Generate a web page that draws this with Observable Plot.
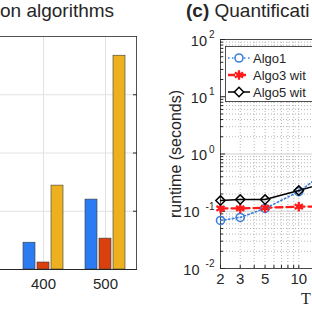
<!DOCTYPE html>
<html><head><meta charset="utf-8">
<script src="https://cdn.jsdelivr.net/npm/d3@7"></script>
<script src="https://cdn.jsdelivr.net/npm/@observablehq/plot@0.6"></script>
<style>
html,body{margin:0;padding:0;background:#fff;}
#wrap{position:relative;width:312px;height:312px;overflow:hidden;background:#fff;font-family:"Liberation Sans",Arial,sans-serif;}
#wrap > svg, #wrap > figure {position:absolute;margin:0;}
</style></head><body><div id="wrap"></div>
<script>
// ---- Left panel (bar chart, cropped) ----
const barCategories = ["400", "500"];
const barSeries = ["Algo1", "Algo3", "Algo5"];
const barAlgo1 = [0.46, 1.20];
const barAlgo3 = [0.12, 0.53];
const barAlgo5 = [1.44, 3.67];
const barGridTicks = [1, 2, 3];
const barTitle = "on algorithms";

// ---- Right panel (log-log runtime) ----
const nValues = [2, 3, 5, 10, 20];
const algo1Runtime = [0.069, 0.078, 0.112, 0.22, 0.6];
const algo3Runtime = [0.112, 0.112, 0.115, 0.12, 0.12];
const algo5Runtime = [0.154, 0.16, 0.16, 0.23, 0.34];
const xTickValues = [2, 3, 5, 10];
const yTickValues = [0.01, 0.1, 1, 10, 100];
const legendLabels = ["Algo1", "Algo3 wit", "Algo5 wit"];
const rightTitleBold = "(c)";
const rightTitle = " Quantificati";
const yLabel = "runtime (seconds)";
const xLabel = "T";

const FONT = "Liberation Sans, Arial, sans-serif";
const INK = "#262626";
const wrap = document.getElementById("wrap");

// ---------- left chart ----------
const barColors = ["#2b7cf2", "#d9400e", "#edb120"];
const barVals = [barAlgo1, barAlgo3, barAlgo5];
const barOffsets = [-14, 0, 14];
const left = Plot.plot({
  width: 146, height: 312,
  marginLeft: 0, marginRight: 10, marginTop: 36, marginBottom: 43,
  style: {fontFamily: FONT, fontSize: "15px", color: INK, background: "transparent", overflow: "visible"},
  x: {type: "band", domain: barCategories, range: [12, 136], padding: 0, axis: null},
  y: {domain: [0, 4], axis: null},
  marks: [
    Plot.gridY(barGridTicks, {stroke: "#e2e2e2", strokeOpacity: 1}),
    Plot.gridX(barCategories, {stroke: "#e2e2e2", strokeOpacity: 1}),
    ...barSeries.map((s, i) => Plot.barY(
      barCategories.map((c, j) => ({cat: c, val: barVals[i][j], series: s})),
      {x: "cat", y: "val", fill: barColors[i], stroke: "#3a3a3a", strokeWidth: 0.6,
       insetLeft: 25, insetRight: 25, dx: barOffsets[i]})),
    Plot.axisX({tickSize: 0, tickPadding: 9, fontSize: 15, fill: INK, label: null}),
    Plot.axisY(barGridTicks, {anchor: "right", tickSize: -4, tickFormat: () => "", stroke: INK, label: null}),
    Plot.frame({anchor: "top", stroke: INK, strokeWidth: 0.8}),
    Plot.frame({anchor: "right", stroke: INK, strokeWidth: 0.8}),
    Plot.frame({anchor: "bottom", stroke: INK, strokeWidth: 1})
  ]
});
left.style.left = "0px"; left.style.top = "0px";
wrap.appendChild(left);

// ---------- right chart ----------
const minorX = [];
for (let k = 2; k <= 10; k++) minorX.push(k);
minorX.push(20);
const minorY = [];
for (const d of [0.01, 0.1, 1, 10]) for (let k = 2; k <= 9; k++) minorY.push(d * k);

const series = [
  {vals: algo1Runtime, stroke: "#3a80dc", dash: "1.5,2.5", symbol: "circle", r: 4, fill: "none", sw: 1.6},
  {vals: algo3Runtime, stroke: "#ff1a1a", dash: "7,4", symbol: "asterisk", r: 4.5, fill: "none", sw: 2.3},
  {vals: algo5Runtime, stroke: "#000000", dash: null, symbol: "diamond2", r: 4.2, fill: "none", sw: 1.5}
];

const right = Plot.plot({
  width: 192, height: 312,
  marginLeft: 70, marginRight: 10, marginTop: 39, marginBottom: 44,
  style: {fontFamily: FONT, fontSize: "15px", color: INK, background: "transparent", overflow: "visible"},
  x: {type: "log", domain: [2, 20], axis: null},
  y: {type: "log", domain: [0.01, 100], axis: null},
  marks: [
    Plot.gridX(minorX, {stroke: "#b8b8b8", strokeOpacity: 1, strokeDasharray: "1,2"}),
    Plot.gridY(minorY, {stroke: "#b8b8b8", strokeOpacity: 1, strokeDasharray: "1,2"}),
    Plot.gridY(yTickValues, {stroke: "#cfcfcf", strokeOpacity: 1}),
    Plot.frame({stroke: INK, strokeWidth: 0.8}),
    Plot.axisX(minorX, {tickSize: -3, tickFormat: () => "", stroke: INK, label: null}),
    Plot.axisY(minorY, {tickSize: -3, tickFormat: () => "", stroke: INK, label: null}),
    Plot.axisY(yTickValues, {tickSize: -5, tickFormat: () => "", stroke: INK, label: null}),
    // x tick labels
    Plot.text(xTickValues, {x: d => d, frameAnchor: "bottom", text: d => String(d), dy: 15, fontSize: 15, fill: INK}),
    // "10" bases
    Plot.text(yTickValues.filter(d => d >= 1), {y: d => d, frameAnchor: "left", text: () => "10", textAnchor: "end", dx: -13.5, dy: 1.5, fontSize: 14.5, fill: INK}),
    Plot.text(yTickValues.filter(d => d < 1), {y: d => d, frameAnchor: "left", text: () => "10", textAnchor: "end", dx: -21, dy: 1.5, fontSize: 14.5, fill: INK}),
    // exponents
    Plot.text(yTickValues, {y: d => d, frameAnchor: "left", text: d => String(Math.round(Math.log10(d))), textAnchor: "end", dx: -6, dy: -4.5, fontSize: 10, fill: INK}),
    ...series.map(s => Plot.line(nValues.map((n, i) => ({n, t: s.vals[i]})),
      {x: "n", y: "t", stroke: s.stroke, strokeWidth: s.sw, strokeDasharray: s.dash})),
    ...series.map(s => Plot.dot(nValues.map((n, i) => ({n, t: s.vals[i]})),
      {x: "n", y: "t", symbol: () => s.symbol, r: s.r, stroke: s.stroke, fill: s.fill, strokeWidth: s.sw}))
  ]
});
right.style.left = "150px"; right.style.top = "0px";
wrap.appendChild(right);

// ---------- overlay: titles, axis label, legend ----------
const ov = d3.select(wrap).append("svg")
  .attr("width", 312).attr("height", 312)
  .style("left", "0px").style("top", "0px")
  .attr("font-family", FONT).attr("fill", INK);

ov.append("text").attr("x", 0).attr("y", 17).attr("font-size", 19).text(barTitle);
const t2 = ov.append("text").attr("x", 186).attr("y", 17).attr("font-size", 19);
t2.append("tspan").attr("font-weight", "bold").text(rightTitleBold);
t2.append("tspan").text(rightTitle);

ov.append("text").attr("transform", "translate(181,154) rotate(-90)")
  .attr("text-anchor", "middle").attr("font-size", 16).text(yLabel);

ov.append("text").attr("x", 301).attr("y", 304).attr("font-size", 16)
  .attr("font-family", "Liberation Serif, Times New Roman, serif").text(xLabel);

// legend
const lg = ov.append("g");
lg.append("rect").attr("x", 225.5).attr("y", 46.5).attr("width", 200).attr("height", 55)
  .attr("fill", "#fff").attr("stroke", INK).attr("stroke-width", 0.8);
const sym = {circle: d3.symbolCircle, asterisk: d3.symbolAsterisk, diamond2: d3.symbolDiamond2};
legendLabels.forEach((lab, i) => {
  const y = 58 + i * 17;
  const s = series[i];
  lg.append("line").attr("x1", 228).attr("x2", 250).attr("y1", y).attr("y2", y)
    .attr("stroke", s.stroke).attr("stroke-width", s.sw).attr("stroke-dasharray", s.dash);
  lg.append("path").attr("transform", `translate(239,${y})`)
    .attr("d", d3.symbol(sym[s.symbol], Math.PI * s.r * s.r)())
    .attr("fill", s.symbol === "asterisk" ? "none" : "#fff").attr("stroke", s.stroke).attr("stroke-width", s.sw);
  lg.append("text").attr("x", 253).attr("y", y + 4.5).attr("font-size", 13).text(lab);
});
</script></body></html>
